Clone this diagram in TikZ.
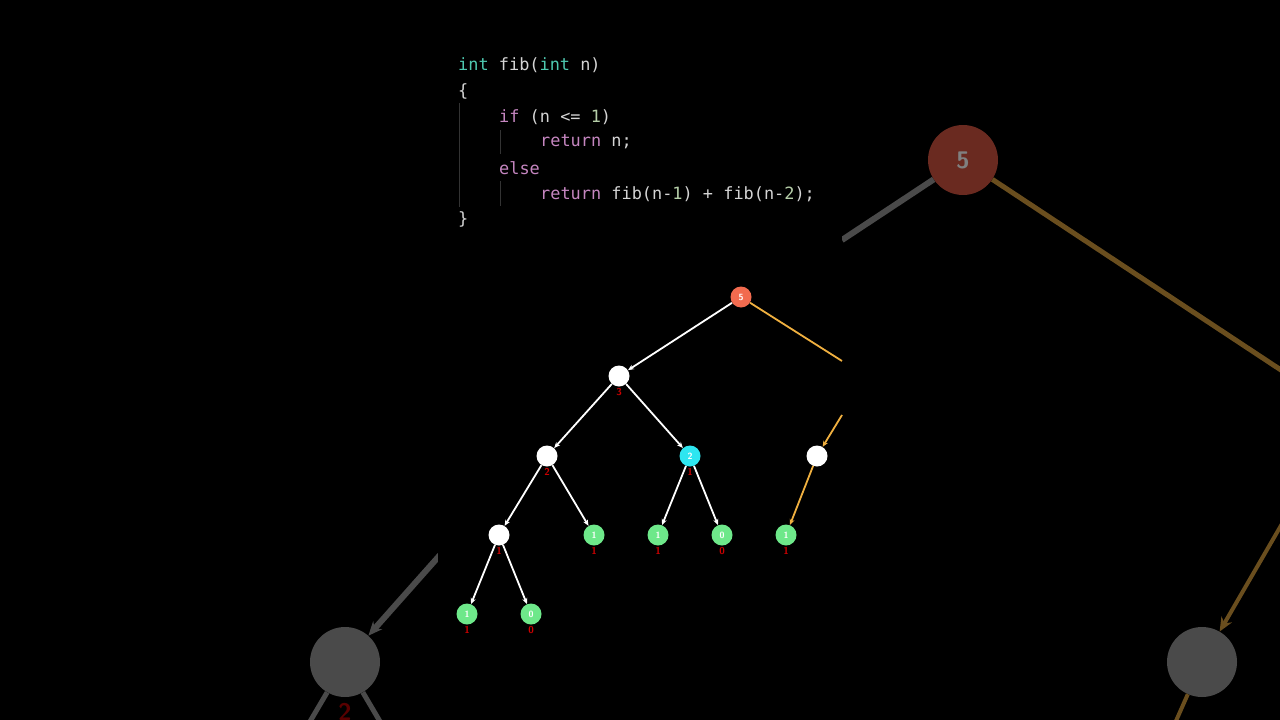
\documentclass[tikz,border=0pt]{standalone}
\usepackage{fontspec}
\setmonofont{DejaVu Sans Mono}
\usetikzlibrary{arrows.meta}
\definecolor{kw}{HTML}{C586C0}
\definecolor{ty}{HTML}{4EC9B0}
\definecolor{nm}{HTML}{B5CEA8}
\definecolor{tx}{HTML}{D4D4D4}
\definecolor{org}{HTML}{F26B4F}
\definecolor{cyn}{HTML}{2EE6F0}
\definecolor{grn}{HTML}{6EE88A}
\definecolor{edgeo}{HTML}{F0B040}
\definecolor{bgred}{HTML}{6A2A20}
\definecolor{bgbrown}{HTML}{6A4E1E}
\definecolor{bggray}{HTML}{4A4A4A}
\begin{document}
\begin{tikzpicture}[x=1pt,y=-1pt,
  nd/.style={circle,inner sep=0pt,minimum size=21pt,fill=white,text=white,font=\sffamily\bfseries\fontsize{9}{9}\selectfont},
  lbl/.style={text=red!80!black,font=\sffamily\bfseries\fontsize{10}{10}\selectfont,inner sep=0pt},
  ar/.style={draw=white,line width=1.8pt,-{Stealth[length=6pt,width=5pt]}},
  ao/.style={draw=edgeo,line width=1.8pt},
  code/.style={anchor=west,inner sep=0pt,text=tx,font=\ttfamily\fontsize{16.9}{16.9}\selectfont},
  bgn/.style={circle,inner sep=0pt,minimum size=70pt,fill=bggray}]
\fill[black] (0,0) rectangle (1280,720);
\useasboundingbox (0,0) rectangle (1280,720);
% blurred side background
\node[circle,minimum size=70pt,fill=bgred,text=gray,font=\sffamily\bfseries\fontsize{24}{24}\selectfont] (b5) at (963,160) {5};
\coordinate (bl1) at (842,240);
\draw[bggray,line width=6pt] (bl1) -- (b5);
\coordinate (br1) at (1290,376);
\draw[bgbrown,line width=5pt] (b5) -- (br1);
\node[bgn] (bgr) at (1202,662) {};
\coordinate (br2) at (1290,510);
\draw[bgbrown,line width=4pt,-{Stealth[length=14pt,width=12pt]}] (br2) -- (bgr);
\coordinate (br3) at (1172,730);
\draw[bgbrown,line width=4pt] (bgr) -- (br3);
\node[bgn] (bgl) at (345,662) {};
\coordinate (bl2) at (440,555);
\draw[bggray,line width=6pt,-{Stealth[length=14pt,width=12pt]}] (bl2) -- (bgl);
\coordinate (bl3) at (305,730);
\coordinate (bl4) at (385,730);
\draw[bggray,line width=5pt] (bgl) -- (bl3) (bgl) -- (bl4);
\node[text=red!35!black,font=\sffamily\bfseries\fontsize{24}{24}\selectfont,anchor=north] (b2) at (345,700) {2};
% center panel
\fill[black] (438,0) rectangle (842,720);
% code
\draw[gray!40!black,line width=0.8pt] (459,103) -- (459,207);
\draw[gray!40!black,line width=0.8pt] (500,130) -- (500,154) (500,181) -- (500,206);
\node[code] (c1) at (458,65) {\textcolor{ty}{int} fib(\textcolor{ty}{int} n)};
\node[code] (c2) at (458,91) {\{};
\node[code] (c3) at (499,117) {\textcolor{kw}{if} (n <= \textcolor{nm}{1})};
\node[code] (c4) at (540,142) {\textcolor{kw}{return} n;};
\node[code] (c5) at (499,168) {\textcolor{kw}{else}};
\node[code] (c6) at (540,194) {\textcolor{kw}{return} fib(n-\textcolor{nm}{1}) + fib(n-\textcolor{nm}{2});};
\node[code] (c7) at (458,219) {\}};
% tree
\node[nd,fill=org] (n5) at (741,297) {5};
\node[nd] (n3) at (619,376) {};
\node[nd] (n2a) at (547,456) {};
\node[nd,fill=cyn] (n2b) at (690,456) {2};
\node[nd] (n3r) at (817,456) {};
\node[nd] (n1a) at (499,535) {};
\node[nd,fill=grn] (l1) at (594,535) {1};
\node[nd,fill=grn] (l2) at (658,535) {1};
\node[nd,fill=grn] (l3) at (722,535) {0};
\node[nd,fill=grn] (l4) at (786,535) {1};
\node[nd,fill=grn] (l5) at (467,614) {1};
\node[nd,fill=grn] (l6) at (531,614) {0};
\foreach \n/\t in {n3/3,n2a/2,n2b/1,n1a/1,l1/1,l2/1,l3/0,l4/1,l5/1,l6/0}
  \node[lbl] at ([yshift=-16pt]\n) {\t};
\draw[ar] (n5) -- (n3);
\draw[ar] (n3) -- (n2a);
\draw[ar] (n3) -- (n2b);
\draw[ar] (n2a) -- (n1a);
\draw[ar] (n2a) -- (l1);
\draw[ar] (n2b) -- (l2);
\draw[ar] (n2b) -- (l3);
\draw[ar] (n1a) -- (l5);
\draw[ar] (n1a) -- (l6);
\coordinate (e1) at (842,361);
\coordinate (e2) at (842,415);
\draw[ao] (n5) -- (e1);
\draw[ao,-{Stealth[length=6pt,width=5pt]}] (e2) -- (n3r);
\draw[ao,-{Stealth[length=6pt,width=5pt]}] (n3r) -- (l4);
\end{tikzpicture}
\end{document}
